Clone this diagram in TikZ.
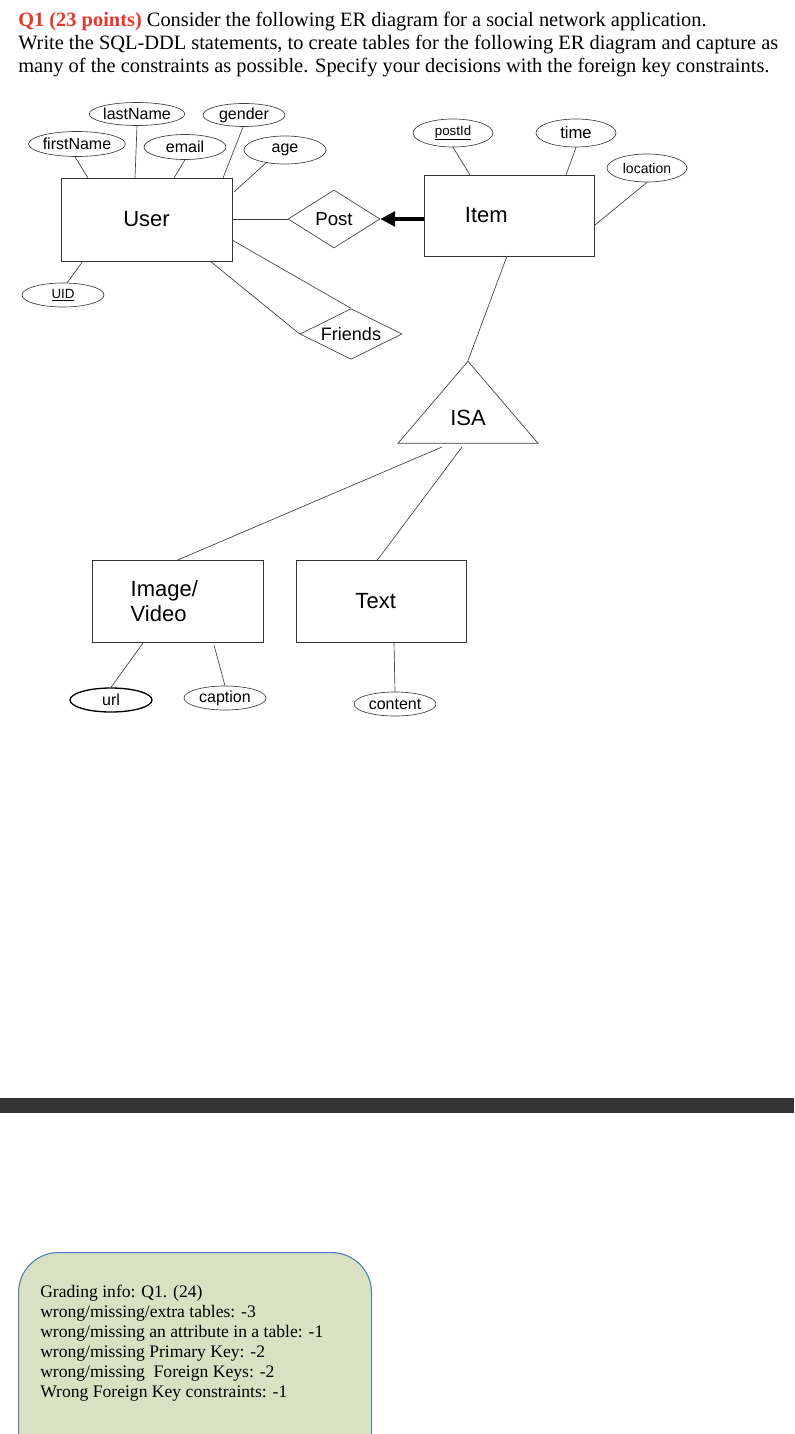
\documentclass[tikz,border=0pt]{standalone}
\usepackage{fontspec}
\setmainfont{Liberation Serif}
\setsansfont{Liberation Sans}
\usetikzlibrary{shapes.geometric,arrows.meta}
\definecolor{qred}{HTML}{E8372C}
\definecolor{gfill}{HTML}{D8E2C3}
\definecolor{gborder}{HTML}{4F7DC0}
\begin{document}
\begin{tikzpicture}[x=0.75pt,y=-0.75pt,
  ln/.style={draw=black!75,line width=0.5pt},
  ent/.style={draw=black!80,line width=0.6pt,minimum width=171*0.75pt,minimum height=82*0.75pt,font=\sffamily\fontsize{16.5}{18}\selectfont},
  attr/.style={ellipse,draw=black!75,line width=0.5pt,minimum width=80*0.75pt,minimum height=25*0.75pt,inner sep=0pt,font=\sffamily\fontsize{12}{13}\selectfont},
  rel/.style={diamond,draw=black!75,line width=0.5pt,inner sep=0pt,aspect=1.6,font=\sffamily\fontsize{14}{16}\selectfont}]
\useasboundingbox (0,0) rectangle (794,1434);
\clip (0,0) rectangle (794,1434);
% title
\node[anchor=base west,inner sep=0pt,font=\fontsize{15.3}{16}\selectfont] (t1) at (18,27) {\textcolor{qred}{\textbf{Q1 (23 points)}} Consider the following ER diagram for a social network application.};
\node[anchor=base west,inner sep=0pt,font=\fontsize{15.3}{16}\selectfont] (t2) at (18,50) {Write the SQL-DDL statements, to create tables for the following ER diagram and capture as};
\node[anchor=base west,inner sep=0pt,font=\fontsize{15.3}{16}\selectfont] (t3) at (18,73) {many of the constraints as possible. Specify your decisions with the foreign key constraints.};
% User
\node[ent,minimum width=171*0.75pt,minimum height=83*0.75pt] (user) at (146.5,219.5) {User};
\node[attr,minimum height=23*0.75pt] (lastName) at (137,114) {lastName};
\node[attr,minimum width=82*0.75pt,minimum height=23*0.75pt] (gender) at (244,115) {gender};
\node[attr] (firstName) at (77,144) {firstName};
\node[attr,minimum width=82*0.75pt] (email) at (185,147) {email};
\node[attr,minimum width=82*0.75pt,minimum height=28*0.75pt] (age) at (285,150) {age};
\node[attr,minimum width=82*0.75pt,minimum height=24*0.75pt,font=\sffamily\fontsize{10}{11}\selectfont] (uid) at (63,295) {\underline{UID}};
\coordinate (a1) at (88,178); \coordinate (a2) at (135,178); \coordinate (a3) at (174,178);
\coordinate (a4) at (223,178); \coordinate (a5) at (234,192); \coordinate (a6) at (83,261);
\draw[ln] (firstName.south) ++(-2,0) -- (a1);
\draw[ln] (lastName.south) -- (a2);
\draw[ln] (email.south) -- (a3);
\draw[ln] (gender) ++(-1,12) -- (a4);
\draw[ln] (age) ++(-18,12) -- (a5);
\draw[ln] (uid) ++(4,-12) -- (a6);
% Post
\node[rel,minimum width=92*0.75pt,minimum height=58*0.75pt] (post) at (334,219) {Post};
\coordinate (u1) at (232,219);
\draw[ln] (u1) -- (post.west);
% Item
\node[ent,minimum width=170*0.75pt,minimum height=81*0.75pt] (item) at (509,215.5) {\hspace*{-34pt}Item};
\draw[line width=2.4pt,-{Triangle[length=11pt,width=11pt]}] (item.west) ++(0,3.5) coordinate (iw) -- (post.east);
\node[attr,minimum width=80*0.75pt,minimum height=28*0.75pt,font=\sffamily\fontsize{10}{11}\selectfont] (postId) at (453,133) {\underline{postId}};
\node[attr,minimum width=80*0.75pt,minimum height=28*0.75pt,font=\sffamily\fontsize{12.5}{13}\selectfont] (time) at (576,133) {time};
\node[attr,minimum width=80*0.75pt,minimum height=28*0.75pt,font=\sffamily\fontsize{10.5}{11}\selectfont] (location) at (647,168) {location};
\coordinate (i1) at (470,175); \coordinate (i2) at (566,175); \coordinate (i3) at (595,225);
\draw[ln] (postId.south) -- (i1);
\draw[ln] (time.south) -- (i2);
\draw[ln] (location.south) -- (i3);
% Friends
\node[rel,minimum width=102*0.75pt,minimum height=46*0.75pt,font=\sffamily\fontsize{13.5}{14}\selectfont] (friends) at (351,334) {Friends};
\coordinate (u2) at (232,240); \coordinate (u3) at (210,261);
\draw[ln] (u2) -- (friends.north);
\draw[ln] (u3) -- (friends.west);
% ISA
\node[isosceles triangle,isosceles triangle apex angle=81,shape border rotate=90,draw=black!75,line width=0.5pt,minimum height=82*0.75pt,inner sep=0pt] (isa) at (468,411) {};
\node[font=\sffamily\fontsize{16.5}{18}\selectfont] (isal) at (468,418) {ISA};
\coordinate (i4) at (507,256);
\draw[ln] (i4) -- (isa.apex);
% subclasses
\node[ent] (img) at (177.5,601.5) {};
\node[font=\sffamily\fontsize{16.5}{19}\selectfont,align=left,anchor=west] (imgl) at (126,601) {Image/\\Video};
\node[ent,minimum width=170*0.75pt] (txt) at (381,601.5) {\hspace*{-8pt}Text};
\coordinate (s1) at (442,447); \coordinate (s2) at (462,447);
\draw[ln] (s1) -- (img.north);
\draw[ln] (s2) -- (377,560.5);
\node[attr,minimum width=82*0.75pt,minimum height=24*0.75pt,line width=1pt,draw=black] (url) at (111,700) {url};
\node[attr,minimum width=82*0.75pt,minimum height=24*0.75pt] (caption) at (225,698) {caption};
\node[attr,minimum width=82*0.75pt,minimum height=24*0.75pt] (content) at (395,704) {content};
\coordinate (c1) at (143,643); \coordinate (c2) at (214,645); \coordinate (c3) at (394,643);
\draw[ln] (c1) -- (url.north);
\draw[ln] (c2) -- (caption.north);
\draw[ln] (c3) -- (content.north);
% bar
\fill[black!80] (0,1098) rectangle (794,1113);
% grading box
\node[draw=gborder,fill=gfill,line width=0.8pt,rounded corners=30pt,minimum width=353*0.75pt,minimum height=230*0.75pt,anchor=north west] (grade) at (18,1252) {};
\node[anchor=north west,align=left,inner sep=0pt,font=\fontsize{13.2}{15}\selectfont] (gtext) at (40,1285) {Grading info: Q1. (24)\\wrong/missing/extra tables: -3\\wrong/missing an attribute in a table: -1\\wrong/missing Primary Key: -2\\wrong/missing\ \ Foreign Keys: -2\\Wrong Foreign Key constraints: -1};
\end{tikzpicture}
\end{document}
